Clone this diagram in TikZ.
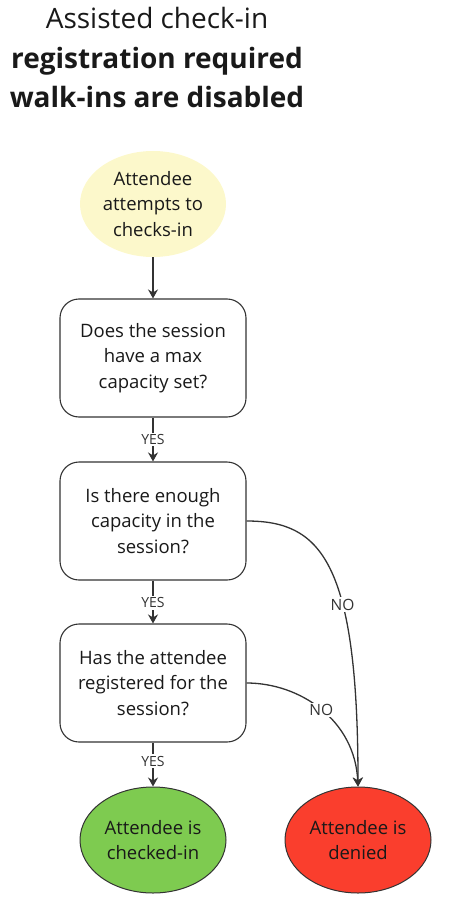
\documentclass[tikz,border=0pt]{standalone}
\usepackage{fontspec}
\setmainfont{Open Sans}
\usetikzlibrary{shapes.geometric,arrows.meta}
\definecolor{lineC}{HTML}{333333}
\definecolor{startC}{HTML}{FCF8CB}
\definecolor{okC}{HTML}{7ECB50}
\definecolor{noC}{HTML}{FA3E2D}
\begin{document}
\begin{tikzpicture}[x=1pt,y=-1pt,
  txt/.style={font=\fontsize{18.5}{25.5}\selectfont, text=black!90, align=center},
  decision/.style={txt, draw=lineC, line width=1.1pt, rounded corners=19pt, minimum width=186pt, minimum height=118pt, inner sep=0pt},
  terminal/.style={txt, ellipse, minimum width=146pt, minimum height=106pt, inner sep=0pt},
  conn/.style={draw=lineC, line width=1.3pt, -{Stealth[length=9pt,width=10pt,inset=3pt]}},
  lab/.style={font=\fontsize{14}{16}\selectfont, text=lineC, fill=white, inner sep=1.5pt},
  nolab/.style={font=\fontsize{15.5}{17}\selectfont, text=lineC, fill=white, inner sep=1.5pt}
]
\useasboundingbox (0,0) rectangle (449,901);
\node[font=\fontsize{28}{39.5}\selectfont, text=black!90, align=center] (title) at (157,58)
  {Assisted check-in\\\textbf{registration required}\\\textbf{walk-ins are disabled}};
\node[terminal, fill=startC] (start) at (153,204) {Attendee\\attempts to\\checks-in};
\node[decision] (q1) at (153,358) {Does the session\\have a max\\capacity set?};
\node[decision] (q2) at (153,521) {Is there enough\\capacity in the\\session?};
\node[decision] (q3) at (153,683) {Has the attendee\\registered for the\\session?};
\node[terminal, fill=okC, draw=lineC, line width=1pt] (ok) at (153,840) {Attendee is\\checked-in};
\node[terminal, fill=noC, draw=lineC, line width=1pt] (deny) at (358,840) {Attendee is\\denied};
\draw[conn] (start) -- (q1);
\draw[conn] (q1) -- node[lab] {YES} (q2);
\draw[conn] (q2) -- node[lab, pos=0.52] {YES} (q3);
\draw[conn] (q3) -- node[lab, pos=0.42] {YES} (ok);
\draw[conn] (q2.east) .. controls (320,521) and (358,560) .. node[nolab, pos=0.63] {NO} (deny.north);
\draw[conn] (q3.east) .. controls (300,683) and (355,720) .. node[nolab, pos=0.5] {NO} (deny.north);
\end{tikzpicture}
\end{document}
